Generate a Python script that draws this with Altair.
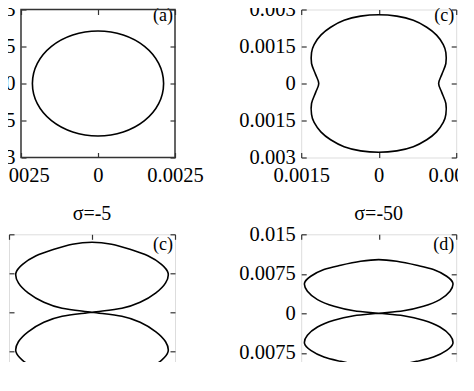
import altair as alt
import pandas as pd

FONT = "Liberation Serif"

# ---- panel (a): nearly circular closed orbit ----
a_x = [0.00213, 0.00197, 0.00151, 0.00082, 0.0, -0.00082, -0.00151, -0.00197,
       -0.00213, -0.00197, -0.00151, -0.00082, 0.0, 0.00082, 0.00151, 0.00197]
a_y = [0.0, 0.00082, 0.00151, 0.00197, 0.00213, 0.00197, 0.00151, 0.00082,
       0.0, -0.00082, -0.00151, -0.00197, -0.00213, -0.00197, -0.00151, -0.00082]

# ---- panel (c) top right: peanut-shaped orbit ----
b_x = [0.0, 0.00035, 0.00067, 0.00093, 0.00112, 0.00125, 0.00130, 0.00130, 0.00122, 0.00116,
       0.00122, 0.00130, 0.00130, 0.00125, 0.00112, 0.00093, 0.00067, 0.00035, 0.0,
       -0.00035, -0.00067, -0.00093, -0.00112, -0.00125, -0.00130, -0.00130, -0.00122, -0.00116,
       -0.00122, -0.00130, -0.00130, -0.00125, -0.00112, -0.00093, -0.00067, -0.00035]
b_y = [0.00279, 0.00273, 0.00256, 0.00228, 0.00196, 0.00158, 0.00125, 0.00081, 0.00036, 0.0,
       -0.00036, -0.00081, -0.00125, -0.00158, -0.00196, -0.00228, -0.00256, -0.00273, -0.00279,
       -0.00273, -0.00256, -0.00228, -0.00196, -0.00158, -0.00125, -0.00081, -0.00036, 0.0,
       0.00036, 0.00081, 0.00125, 0.00158, 0.00196, 0.00228, 0.00256, 0.00273]

# ---- panel (c) bottom left, sigma=-5: figure eight ----
c_x = [0.0,
       0.00108, 0.00174, 0.00231, 0.00266, 0.00275, 0.00251, 0.00202, 0.00143, 0.00071, 0.0,
       -0.00071, -0.00143, -0.00202, -0.00251, -0.00275, -0.00266, -0.00231, -0.00174, -0.00108,
       0.0,
       0.00108, 0.00174, 0.00231, 0.00266, 0.00275, 0.00251, 0.00202, 0.00143, 0.00071, 0.0,
       -0.00071, -0.00143, -0.00202, -0.00251, -0.00275, -0.00266, -0.00231, -0.00174, -0.00108]
c_y = [0.0,
       0.00077, 0.00192, 0.00375, 0.00567, 0.00756, 0.00923, 0.01087, 0.01202, 0.01308, 0.01346,
       0.01308, 0.01202, 0.01087, 0.00923, 0.00756, 0.00567, 0.00375, 0.00192, 0.00077,
       0.0,
       -0.00077, -0.00192, -0.00375, -0.00567, -0.00756, -0.00923, -0.01087, -0.01202, -0.01308, -0.01346,
       -0.01308, -0.01202, -0.01087, -0.00923, -0.00756, -0.00567, -0.00375, -0.00192, -0.00077]

# ---- panel (d), sigma=-50: flatter figure eight ----
d_x = [0.0,
       0.00096, 0.00173, 0.00237, 0.00276, 0.00287, 0.00263, 0.00212, 0.00147, 0.00070, 0.0,
       -0.00070, -0.00147, -0.00212, -0.00263, -0.00287, -0.00276, -0.00237, -0.00173, -0.00096,
       0.0,
       0.00096, 0.00173, 0.00237, 0.00276, 0.00287, 0.00263, 0.00212, 0.00147, 0.00070, 0.0,
       -0.00070, -0.00147, -0.00212, -0.00263, -0.00287, -0.00276, -0.00237, -0.00173, -0.00096]
d_y = [0.0,
       0.00048, 0.00133, 0.00260, 0.00418, 0.00575, 0.00703, 0.00830, 0.00912, 0.00987, 0.01020,
       0.00987, 0.00912, 0.00830, 0.00703, 0.00575, 0.00418, 0.00260, 0.00133, 0.00048,
       0.0,
       -0.00048, -0.00133, -0.00260, -0.00418, -0.00575, -0.00703, -0.00830, -0.00912, -0.00987, -0.01020,
       -0.00987, -0.00912, -0.00830, -0.00703, -0.00575, -0.00418, -0.00260, -0.00133, -0.00048]

# axis ticks / frame limits
ticks_a_x = [-0.0025, 0.0, 0.0025]
ticks_b_x = [-0.0015, 0.0, 0.0015]
ticks_cd_x = [-0.003, 0.0, 0.003]
ticks_top_y = [-0.003, -0.0015, 0.0, 0.0015, 0.003]
ticks_bot_y = [-0.015, -0.0075, 0.0, 0.0075, 0.015]
frame_a_x = [-0.0025, 0.0025]
frame_a_y = [-0.003, 0.003]

LAB = "datum.value == 0 ? '0' : '' + abs(datum.value)"
FS = 20.5
FRAME = "#333"


def panel(xs, ys, xdom, ydom, xticks, yticks, tag, w, h,
          tag_y=2, title=None, left_offset=-5, frame=None):
    df = pd.DataFrame({"x": xs, "y": ys, "i": list(range(len(xs)))})
    xsc = alt.Scale(domain=xdom, nice=False, zero=False)
    ysc = alt.Scale(domain=ydom, nice=False, zero=False)
    common = dict(domain=False, grid=False, title=None, tickSize=5,
                  labelFlush=False, labelOverlap=False, tickColor=FRAME,
                  tickWidth=1.2, labelFont=FONT, labelColor="black",
                  minExtent=0)
    curve = alt.Chart(df).mark_line(
        color="black", strokeWidth=1.6, interpolate="cardinal-closed"
    ).encode(
        x=alt.X("x:Q", scale=xsc,
                axis=alt.Axis(orient="bottom", values=xticks, labelExpr=LAB, offset=-5,
                              labelPadding=8, labelFontSize=FS, **common)),
        y=alt.Y("y:Q", scale=ysc,
                axis=alt.Axis(orient="left", values=yticks, labelExpr=LAB,
                              offset=left_offset, labelPadding=6,
                              labelFontSize=FS, **common)),
        order="i:Q",
    )
    mirror = alt.Chart(df).mark_line(strokeOpacity=0).encode(
        x=alt.X("x:Q", scale=xsc,
                axis=alt.Axis(orient="top", values=xticks, labels=False, offset=-5, **common)),
        y=alt.Y("y:Q", scale=ysc,
                axis=alt.Axis(orient="right", values=yticks, labels=False, offset=-5, **common)),
        order="i:Q",
    )
    tagc = alt.Chart(pd.DataFrame({"t": [tag]})).mark_text(
        align="right", baseline="top", font=FONT, fontSize=18, color="black"
    ).encode(text="t:N", x=alt.value(w - 2), y=alt.value(tag_y))
    layers = [curve, mirror, tagc]
    if frame is not None:
        fdf = pd.DataFrame({"x0": [frame[0][0]], "x1": [frame[0][1]],
                            "y0": [frame[1][0]], "y1": [frame[1][1]]})
        rect = alt.Chart(fdf).mark_rect(
            fillOpacity=0, stroke=FRAME, strokeWidth=1.5
        ).encode(x=alt.X("x0:Q", scale=xsc, axis=None), x2="x1:Q",
                 y=alt.Y("y0:Q", scale=ysc, axis=None), y2="y1:Q")
        layers.append(rect)
    ch = alt.layer(*layers).resolve_axis(
        x="independent", y="independent"
    ).properties(width=w, height=h)
    if frame is not None:
        ch = ch.properties(view=alt.ViewBackground(stroke="transparent"))
    if title:
        ch = ch.properties(title=alt.TitleParams(
            title, font=FONT, fontSize=20, fontWeight="normal", frame="group",
            offset=-16, baseline="alphabetic", color="black"))
    return ch


# panel (a): plot area shares its left edge with the panel below it; its
# frame is drawn on the data limits, 12 px inside the plot's left edge
tl = panel(a_x, a_y, [-0.0028896, 0.0025], [-0.003, 0.003], ticks_a_x, ticks_top_y,
           "(a)", 166, 148, tag_y=-3, left_offset=-17, frame=(frame_a_x, frame_a_y))
tr = panel(b_x, b_y, [-0.0015, 0.0015], [-0.003, 0.003], ticks_b_x, ticks_top_y,
           "(c)", 155, 148, tag_y=-3)
bl = panel(c_x, c_y, [-0.003, 0.003], [-0.015, 0.015], ticks_cd_x, ticks_bot_y,
           "(c)", 166, 156, title="σ=-5")
br = panel(d_x, d_y, [-0.003, 0.003], [-0.015, 0.015], ticks_cd_x, ticks_bot_y,
           "(d)", 155, 158, title="σ=-50")

PL, PT = 1, 1.5
chart = alt.concat(
    tl, tr, bl, br, columns=2, align="each",
    spacing={"row": 16.8, "column": 34.2},
).properties(
    autosize=alt.AutoSizeParams(type="none"),
    padding={"left": PL, "top": PT, "right": 450 - PL, "bottom": 354 - PT},
).configure_view(stroke=FRAME, strokeWidth=1.5).configure(font=FONT)

chart.save("out.html", embed_options={"renderer": "svg", "actions": False})
